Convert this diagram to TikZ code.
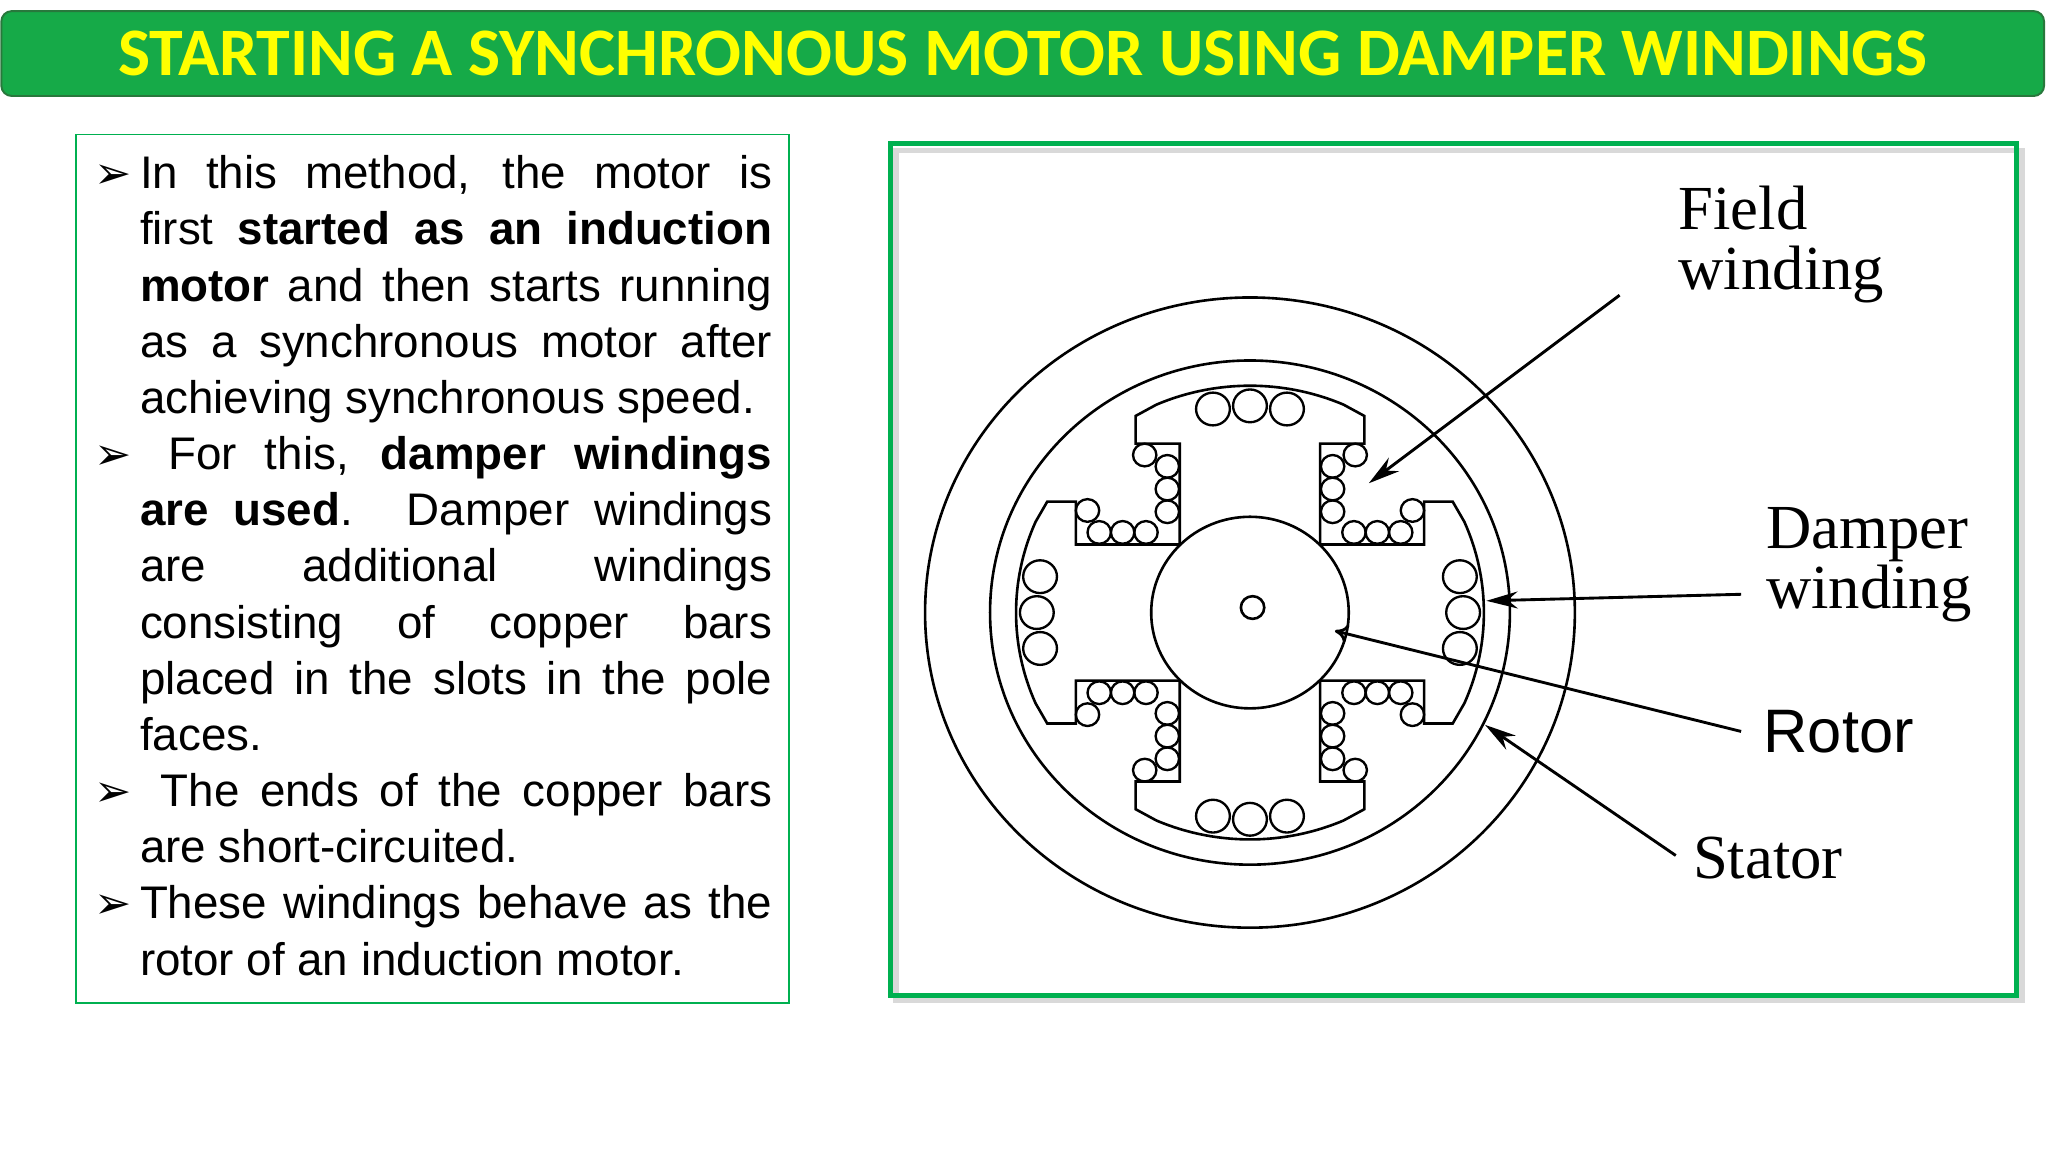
\documentclass[tikz,border=0pt]{standalone}
\usepackage{fontspec}
\setmainfont{Liberation Sans}
\newfontfamily\titlefont{Carlito}
\newfontfamily\seriffont{Liberation Serif}
\newfontfamily\symfont{DejaVu Sans}
\usetikzlibrary{arrows.meta}
\definecolor{titlegreen}{RGB}{22,170,72}
\definecolor{titleedge}{RGB}{40,120,60}
\definecolor{boxgreen}{RGB}{0,176,80}
\definecolor{titleyellow}{RGB}{255,255,0}
\newcommand{\bul}[1]{\noindent\hangindent=35pt\hangafter=1\makebox[35pt][l]{\symfont\bfseries\fontsize{34}{34}\selectfont ➢}#1\par}
\tikzset{
  lbl/.style={font=\seriffont\fontsize{48}{44}\selectfont, align=left, inner sep=0pt},
  ptr/.style={line width=2.2pt, -{Stealth[length=24pt,width=13pt]}},
  ptropen/.style={line width=2.2pt, -{To[length=10pt,width=14pt]}},
  mline/.style={line width=2pt},
  coil/.style={line width=1.8pt}
}
\begin{document}
\begin{tikzpicture}[x=1pt,y=-1pt]
\useasboundingbox (0,0) rectangle (1568,882);
\fill[white] (0,0) rectangle (1568,882);
% title bar
\node[draw=titleedge, line width=1.5pt, fill=titlegreen, rounded corners=8pt,
  minimum width=1564pt, minimum height=65pt, inner sep=0pt] (title) at (783,41)
  {\titlefont\bfseries\fontsize{52}{54}\selectfont\color{titleyellow}STARTING A SYNCHRONOUS MOTOR USING DAMPER WINDINGS};
% left box
\draw[boxgreen, line width=1.2pt] (58,103) rectangle (604,768);
\node[anchor=north west, text width=519pt, inner sep=0pt, align=justify] (txt) at (72,119)
{\fontsize{35}{43}\selectfont\hyphenpenalty=10000\exhyphenpenalty=10000
\bul{In this method, the motor is first \textbf{started as an induction motor} and then starts running as a synchronous motor after achieving synchronous speed.}
\bul{\ For this, \textbf{damper windings}\linebreak \textbf{are used}. Damper windings\linebreak are additional windings\linebreak consisting of copper bars\linebreak placed in the slots in the pole faces.}
\bul{\ The ends of the copper bars are short-circuited.}
\bul{These windings behave as the rotor of an induction motor.}
};
% right frame
\draw[gray!30, line width=4pt] (686,115) rectangle (1548,766);
\draw[boxgreen, line width=4pt] (682,110) rectangle (1544,762);
% motor
\begin{scope}[shift={(957,469)}, xscale=199, yscale=-193]
  \draw[mline] (0,0) circle (1.25);
  \draw[mline] (0,0) circle (1);
  \draw[mline] (0,0) circle (0.38);
  \draw[mline] (0.01,0.02) circle (0.045);
  \foreach \r in {0,90,180,270}{
    \begin{scope}[rotate=\r]
      \draw[mline] (-0.27,0.267) -- (-0.27,0.67) -- (-0.44,0.67) -- (-0.44,0.78)
        -- (113.6:0.9) arc[start angle=113.6, end angle=66.4, radius=0.9]
        -- (0.44,0.78) -- (0.44,0.67) -- (0.27,0.67) -- (0.27,0.267);
      \foreach \a in {80,90,100} \draw[coil] (\a:0.82) circle (0.065);
      \foreach \s in {-1,1}{
        \foreach \yy in {0.40,0.49,0.58} \draw[coil] (\s*0.318,\yy) circle (0.045);
        \draw[coil] (\s*0.405,0.625) circle (0.045);
      }
    \end{scope}
  }
\end{scope}
\coordinate (fwt) at (1048,370);
\coordinate (dwt) at (1138,460);
\coordinate (rtt) at (1022,483);
\coordinate (stt) at (1137,555);
% labels
\node[lbl, anchor=north west] (fw) at (1285,142) {Field\\[2pt]winding};
\node[lbl, anchor=north west] (dw) at (1352,388) {Damper\\[2pt]winding};
\node[anchor=west, inner sep=0pt, font=\fontsize{47}{47}\selectfont] (rt) at (1350,560) {Rotor};
\node[lbl, anchor=west] (st) at (1296,657) {Stator};
\coordinate (fws) at (1240,226);
\coordinate (dws) at (1333,455);
\coordinate (rts) at (1333,560);
\coordinate (sts) at (1283,655);
\draw[ptr] (fws) -- (fwt);
\draw[ptr] (dws) -- (dwt);
\draw[ptropen] (rts) -- (rtt);
\draw[ptr] (sts) -- (stt);
\end{tikzpicture}
\end{document}
